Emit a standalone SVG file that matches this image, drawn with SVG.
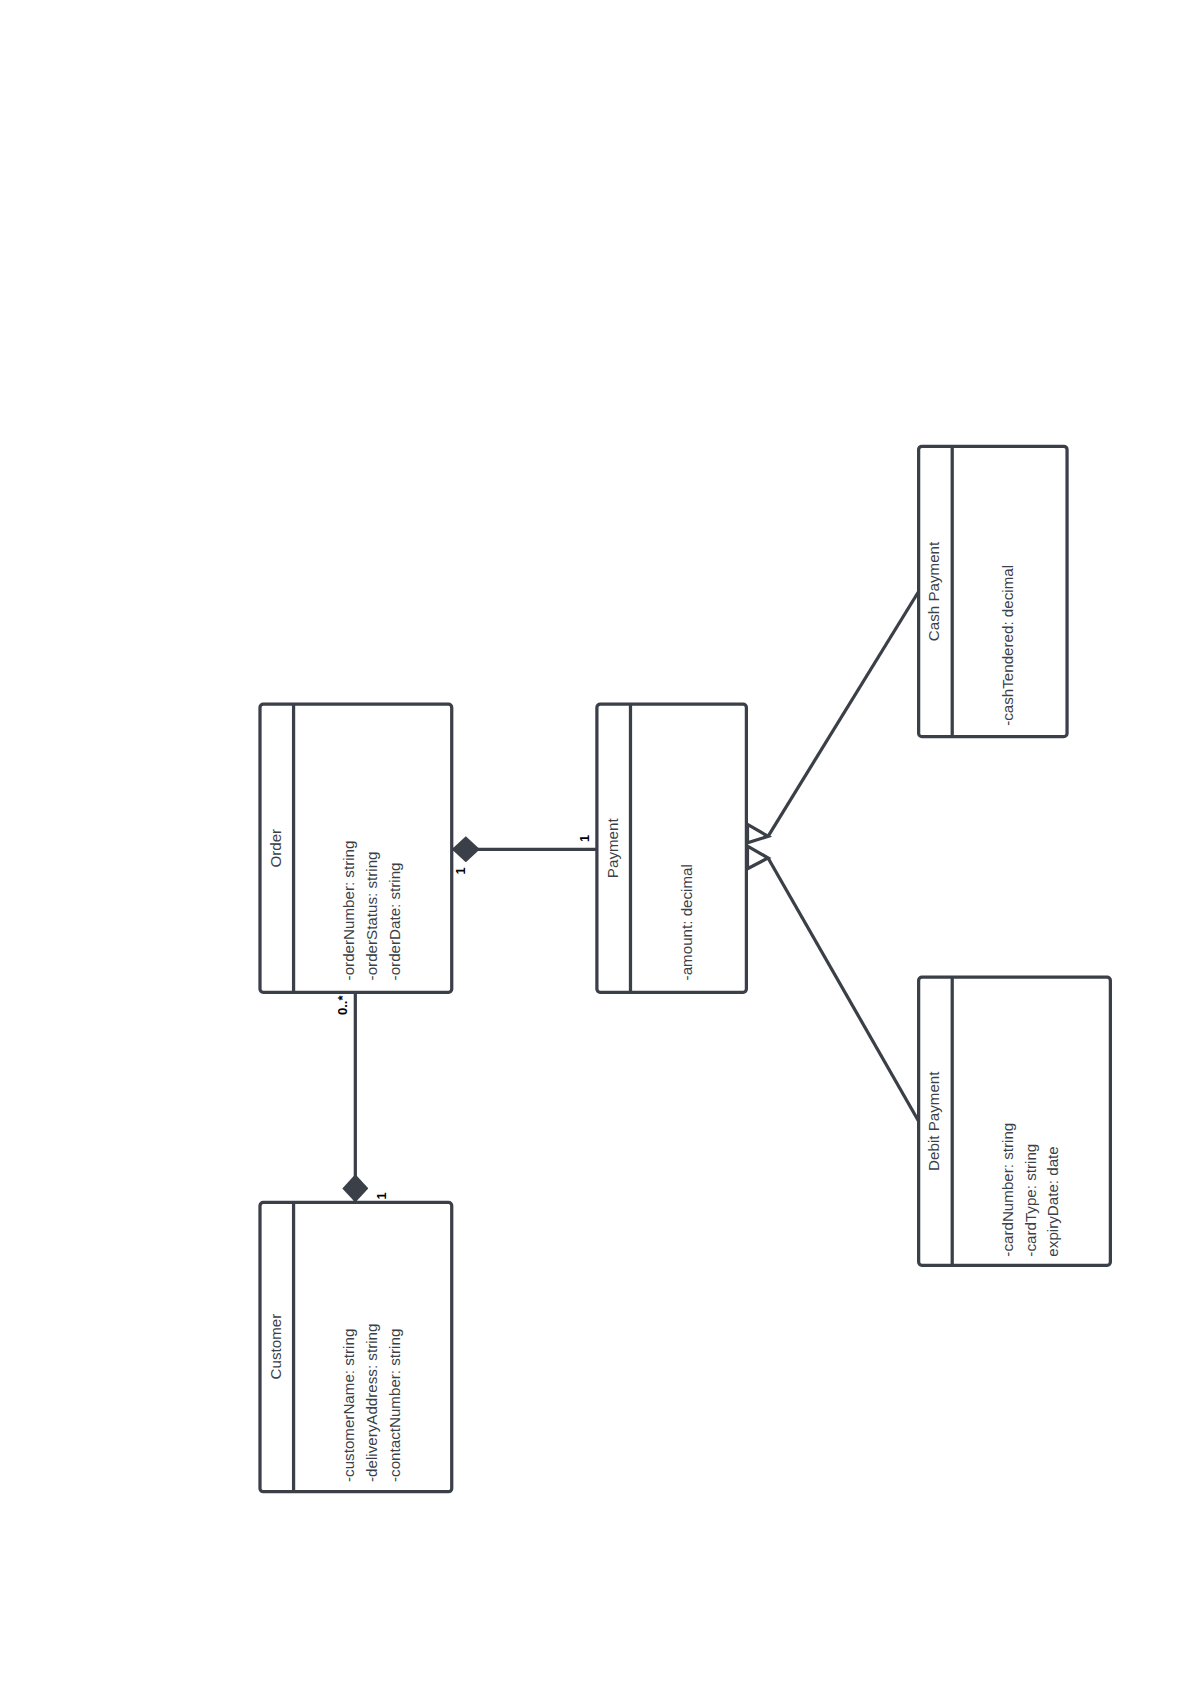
<svg xmlns="http://www.w3.org/2000/svg" width="1200" height="1696" viewBox="0 0 1200 1696">
<style>
.box{fill:#fff;stroke:#3a3f48;stroke-width:3}
.div{stroke:#3a3f48;stroke-width:3}
.t{font-family:"Liberation Sans",Arial,sans-serif;font-size:14px;fill:#3a3f48;dominant-baseline:central}
.m{font-family:"Liberation Sans",Arial,sans-serif;font-size:12px;font-weight:bold;fill:#000;dominant-baseline:central}
.c{stroke:#3a3f48;stroke-width:3;fill:none}
.tri{fill:#fff;stroke:#3a3f48;stroke-width:3;stroke-linejoin:miter}
</style>
<defs>
<marker id="dia" viewBox="0 0 26 24" refX="26" refY="12" markerWidth="26" markerHeight="24" markerUnits="userSpaceOnUse" orient="auto"><path d="M0,12 L13,0 L26,12 L13,24 Z" fill="#3a3f48"/></marker>
</defs>
<rect width="1200" height="1696" fill="#fff"/>
<g transform="scale(1.0833)">
<g id="connectors">
<line class="c" x1="551" y1="784" x2="417" y2="784" marker-end="url(#dia)"/>
<line class="c" x1="328" y1="916" x2="328" y2="1110" marker-end="url(#dia)"/>
<line class="c" x1="848" y1="546" x2="709" y2="772"/>
<line class="c" x1="848" y1="1035" x2="709" y2="792"/>
<polygon class="tri" points="690,761 709,772 690,778"/>
<polygon class="tri" points="690,781 709,792 690,802"/>
<text class="m" transform="translate(425,804) rotate(-90)" text-anchor="middle">1</text>
<text class="m" transform="translate(540,774) rotate(-90)" text-anchor="middle">1</text>
<text class="m" transform="translate(316,928) rotate(-90)" text-anchor="middle">0..*</text>
<text class="m" transform="translate(352,1104) rotate(-90)" text-anchor="middle">1</text>
</g>
<g id="order">
<rect class="box" x="240" y="650" width="177" height="266" rx="3"/>
<line class="div" x1="271" y1="650" x2="271" y2="916"/>
<text class="t" transform="translate(254,783) rotate(-90)" text-anchor="middle">Order</text>
<text class="t" transform="translate(322,905) rotate(-90)">-orderNumber: string</text>
<text class="t" transform="translate(343,905) rotate(-90)">-orderStatus: string</text>
<text class="t" transform="translate(364,905) rotate(-90)">-orderDate: string</text>
</g>
<g id="customer">
<rect class="box" x="240" y="1110" width="177" height="267" rx="3"/>
<line class="div" x1="271" y1="1110" x2="271" y2="1377"/>
<text class="t" transform="translate(254,1243) rotate(-90)" text-anchor="middle">Customer</text>
<text class="t" transform="translate(322,1368) rotate(-90)">-customerName: string</text>
<text class="t" transform="translate(343,1368) rotate(-90)">-deliveryAddress: string</text>
<text class="t" transform="translate(364,1368) rotate(-90)">-contactNumber: string</text>
</g>
<g id="payment">
<rect class="box" x="551" y="650" width="138" height="266" rx="3"/>
<line class="div" x1="582" y1="650" x2="582" y2="916"/>
<text class="t" transform="translate(565,783) rotate(-90)" text-anchor="middle">Payment</text>
<text class="t" transform="translate(634,905) rotate(-90)">-amount: decimal</text>
</g>
<g id="cash">
<rect class="box" x="848" y="412" width="137" height="268" rx="3"/>
<line class="div" x1="879" y1="412" x2="879" y2="680"/>
<text class="t" transform="translate(862,546) rotate(-90)" text-anchor="middle">Cash Payment</text>
<text class="t" transform="translate(930,670) rotate(-90)">-cashTendered: decimal</text>
</g>
<g id="debit">
<rect class="box" x="848" y="902" width="177" height="266" rx="3"/>
<line class="div" x1="879" y1="902" x2="879" y2="1168"/>
<text class="t" transform="translate(862,1035) rotate(-90)" text-anchor="middle">Debit Payment</text>
<text class="t" transform="translate(930,1160) rotate(-90)">-cardNumber: string</text>
<text class="t" transform="translate(951,1160) rotate(-90)">-cardType: string</text>
<text class="t" transform="translate(972,1160) rotate(-90)">expiryDate: date</text>
</g>
</g>
</svg>
